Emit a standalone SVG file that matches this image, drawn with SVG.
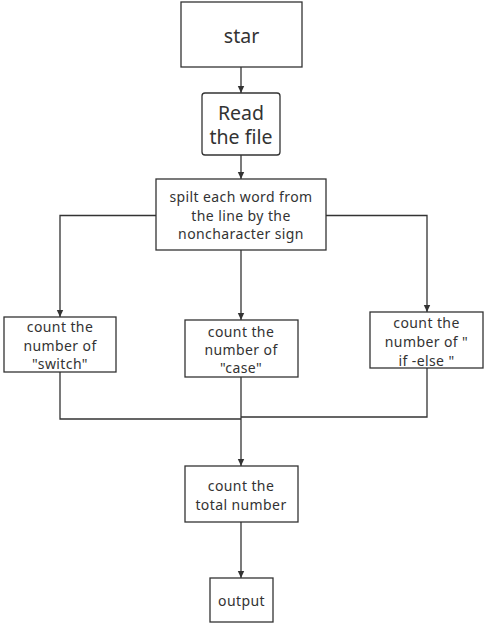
<svg xmlns="http://www.w3.org/2000/svg" width="498" height="628" viewBox="0 0 498 628">
<style>
.box{fill:#fff;stroke:#333;stroke-width:1.3}
.t{font-family:"Noto Sans","Open Sans",sans-serif;font-size:14px;letter-spacing:0.4px;fill:#333;text-anchor:middle}
.tl{font-family:"Noto Sans","Open Sans",sans-serif;font-size:19.5px;fill:#333;text-anchor:middle}
.c{fill:none;stroke:#333;stroke-width:1.3}
</style>
<defs>
<marker id="a" markerWidth="8" markerHeight="8" refX="7" refY="4" orient="auto" markerUnits="userSpaceOnUse">
<path d="M0,0.8 L7,4 L0,7.2 Z" fill="#333"/>
</marker>
</defs>
<rect width="498" height="628" fill="#fff"/>
<g id="connectors">
<path class="c" d="M241,67 V93" marker-end="url(#a)"/>
<path class="c" d="M241,155 V179" marker-end="url(#a)"/>
<path class="c" d="M156,215.5 H60 V317" marker-end="url(#a)"/>
<path class="c" d="M241,250 V320" marker-end="url(#a)"/>
<path class="c" d="M326,215.5 H427 V312" marker-end="url(#a)"/>
<path class="c" d="M60,372 V419 H241"/>
<path class="c" d="M427,368 V417 H241"/>
<path class="c" d="M241,377 V466" marker-end="url(#a)"/>
<path class="c" d="M241,522 V578" marker-end="url(#a)"/>
</g>
<g id="star">
<rect class="box" x="181" y="2" width="121" height="65"/>
<text class="tl" x="241.5" y="43">star</text>
</g>
<g id="read">
<rect class="box" x="202" y="93" width="78" height="62" rx="3"/>
<text class="tl" x="241" y="119.5">Read</text>
<text class="tl" x="241" y="144">the file</text>
</g>
<g id="split">
<rect class="box" x="156" y="179" width="170" height="71"/>
<text class="t" x="241" y="202">spilt each word from</text>
<text class="t" x="241" y="220.5">the line by the</text>
<text class="t" x="241" y="239">noncharacter sign</text>
</g>
<g id="switch">
<rect class="box" x="4" y="317" width="112" height="55"/>
<text class="t" x="60" y="331.5">count the</text>
<text class="t" x="60" y="350.5">number of</text>
<text class="t" x="60" y="368.5">"switch"</text>
</g>
<g id="case">
<rect class="box" x="185" y="320" width="113" height="57"/>
<text class="t" x="241" y="336.5">count the</text>
<text class="t" x="241" y="355">number of</text>
<text class="t" x="241" y="373">"case"</text>
</g>
<g id="ifelse">
<rect class="box" x="370" y="312" width="113" height="56"/>
<text class="t" x="426.5" y="328">count the</text>
<text class="t" x="426.5" y="347">number of "</text>
<text class="t" x="426.5" y="365.5"> if -else "</text>
</g>
<g id="total">
<rect class="box" x="185" y="466" width="113" height="56"/>
<text class="t" x="241" y="491">count the</text>
<text class="t" x="241" y="509.5">total number</text>
</g>
<g id="output">
<rect class="box" x="210" y="578" width="63" height="44"/>
<text class="t" x="241.5" y="606">output</text>
</g>
</svg>
